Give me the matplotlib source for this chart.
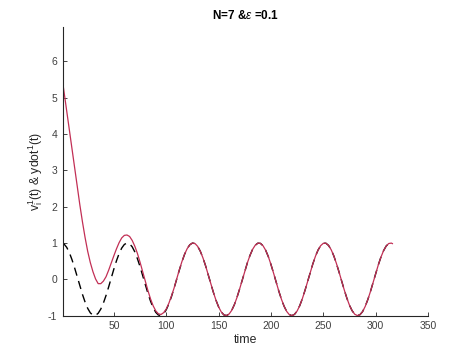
import matplotlib
matplotlib.use('Agg')
import matplotlib.pyplot as plt

plt.rcParams['font.family'] = ['Liberation Sans', 'DejaVu Sans']
plt.rcParams['mathtext.fontset'] = 'custom'
plt.rcParams['mathtext.rm'] = 'Liberation Sans'
plt.rcParams['mathtext.it'] = 'Liberation Sans:italic'
plt.rcParams['axes.unicode_minus'] = False

# time samples (step 2.5, first at t=1, last at t=316)
time = [1] + [2.5 * k for k in range(1, 127)] + [316]

# ydot^1(t), dashed black
ydot = [0.995, 0.969, 0.878, 0.732, 0.540, 0.315, 0.071, -0.178, -0.416, -0.628,
        -0.801, -0.924, -0.990, -0.994, -0.936, -0.820, -0.654, -0.446, -0.211, 0.037,
        0.284, 0.512, 0.709, 0.861, 0.960, 0.999, 0.977, 0.894, 0.754, 0.566,
        0.347, 0.105, -0.146, -0.387, -0.602, -0.780, -0.911, -0.985, -0.997, -0.948,
        -0.839, -0.678, -0.476, -0.244, 0.004, 0.252, 0.483, 0.686, 0.844, 0.950,
        0.998, 0.984, 0.907, 0.775, 0.595, 0.379, 0.137, -0.113, -0.357, -0.576,
        -0.760, -0.897, -0.980, -0.999, -0.958, -0.857, -0.703, -0.505, -0.275, -0.029,
        0.220, 0.455, 0.660, 0.826, 0.939, 0.995, 0.989, 0.921, 0.797, 0.624,
        0.408, 0.170, -0.081, -0.326, -0.548, -0.739, -0.884, -0.973, -1.000, -0.966,
        -0.873, -0.726, -0.533, -0.307, -0.062, 0.187, 0.424, 0.635, 0.806, 0.927,
        0.991, 0.993, 0.933, 0.815, 0.647, 0.438, 0.202, -0.046, -0.292, -0.520,
        -0.715, -0.865, -0.962, -0.999, -0.976, -0.891, -0.748, -0.559, -0.339, -0.096,
        0.154, 0.395, 0.608, 0.785, 0.915, 0.986, 0.997, 0.983]

# v_i^1(t), red: starts high and settles onto ydot after ~t=115
v_head = [5.45, 5.14, 4.63, 4.12, 3.59, 3.07, 2.55, 2.05, 1.58, 1.15,
          0.77, 0.46, 0.21, 0.01, -0.12, -0.12, -0.05, 0.07, 0.25, 0.45,
          0.65, 0.84, 1.01, 1.14, 1.21, 1.22, 1.18, 1.07, 0.91, 0.71,
          0.47, 0.21, -0.06, -0.31, -0.54, -0.73, -0.87, -0.95, -0.97, -0.92,
          -0.82, -0.66, -0.46, -0.24, 0.01, 0.26, 0.49, 0.69]
v = v_head + ydot[len(v_head):]

fig = plt.figure(figsize=(4.74, 3.55), dpi=100)
ax = fig.add_axes([0.132, 0.111, 0.771, 0.813])

ax.plot(time, ydot, color='black', linestyle=(0, (6, 4)), linewidth=1.0)
ax.plot(time, v, color='#c22f55', linewidth=0.9)

ax.set_xlim(1, 350)
ax.set_ylim(-1, 6.95)
ax.set_xticks([50, 100, 150, 200, 250, 300, 350])
ax.set_yticks([-1, 0, 1, 2, 3, 4, 5, 6])

for side in ['top', 'right']:
    ax.spines[side].set_visible(False)
for side in ['left', 'bottom']:
    ax.spines[side].set_color('#262626')
    ax.spines[side].set_linewidth(0.8)
ax.tick_params(direction='in', length=3, width=0.6, colors='#262626', labelsize=7.5, pad=4)
ax.tick_params(axis='both', labelcolor='#404040')

ax.set_xlabel('time', fontsize=8.8, color='#262626', labelpad=2)
ax.set_ylabel(r'v$_{\mathrm{i}}^{1}$(t) & ydot$^{1}$(t)', fontsize=8.8, color='#262626')
ax.yaxis.set_label_coords(-0.048, 0.5)
ax.set_title(r'N=7 &$\epsilon$ =0.1', fontsize=8.5, fontweight='bold', color='black', pad=6)

fig.savefig('out.png', dpi=100)
